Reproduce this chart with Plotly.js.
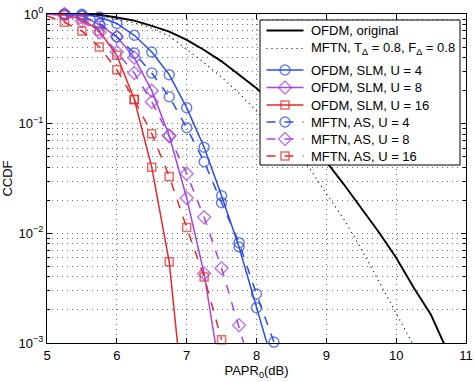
<!DOCTYPE html>
<html>
<head>
<meta charset="utf-8">
<script src="https://cdn.plot.ly/plotly-3.0.1.min.js"></script>
<style>html,body{margin:0;padding:0;background:#fff;}#chart{width:474px;height:382px;}</style>
</head>
<body>
<div id="chart"></div>
<script>
// ---- data ----
var xOrig = [5, 5.25, 5.5, 5.75, 6, 6.25, 6.5, 6.75, 7, 7.25, 7.5, 7.75, 8, 8.25, 8.5, 8.75, 9, 9.25, 9.5, 9.75, 10, 10.25, 10.5, 10.75];
var yOrig = [1, 1, 0.998, 0.985, 0.93, 0.87, 0.78, 0.69, 0.58, 0.47, 0.37, 0.28, 0.21, 0.15, 0.105, 0.07, 0.045, 0.028, 0.017, 0.0103, 0.006, 0.0032, 0.0018, 0.0008];

var xMftn = [5, 5.25, 5.5, 5.75, 6, 6.25, 6.5, 6.75, 7, 7.25, 7.5, 7.75, 8, 8.25, 8.5, 8.75, 9, 9.25, 9.5, 9.75, 10, 10.25, 10.5];
var yMftn = [1, 0.998, 0.99, 0.96, 0.9, 0.83, 0.74, 0.63, 0.48, 0.36, 0.265, 0.19, 0.13, 0.092, 0.062, 0.04, 0.023, 0.0135, 0.0072, 0.0037, 0.0019, 0.00095, 0.0004];

var xSlm4 = [5, 5.25, 5.5, 5.75, 6, 6.25, 6.5, 6.75, 7, 7.25, 7.5, 7.75, 8, 8.25];
var ySlm4 = [1, 1, 0.995, 0.94, 0.82, 0.64, 0.45, 0.28, 0.14, 0.061, 0.022, 0.0075, 0.0021, 0.0006];

var xSlm8 = [5, 5.25, 5.5, 5.75, 6, 6.25, 6.5, 6.75, 7, 7.25, 7.5];
var ySlm8 = [1, 1, 0.96, 0.80, 0.62, 0.40, 0.20, 0.078, 0.021, 0.0043, 0.00044];

var xSlm16 = [5, 5.25, 5.5, 5.75, 6, 6.25, 6.5, 6.75, 7];
var ySlm16 = [1, 0.98, 0.9, 0.70, 0.42, 0.167, 0.040, 0.0055, 0.00015];

var xAs4 = [5, 5.25, 5.5, 5.75, 6, 6.25, 6.5, 6.75, 7, 7.25, 7.5, 7.75, 8, 8.25];
var yAs4 = [1, 0.995, 0.96, 0.82, 0.62, 0.44, 0.29, 0.176, 0.092, 0.045, 0.019, 0.0082, 0.0028, 0.00102];

var xAs8 = [5, 5.25, 5.5, 5.75, 6, 6.25, 6.5, 6.75, 7, 7.25, 7.5, 7.75, 8];
var yAs8 = [1, 0.97, 0.86, 0.68, 0.45, 0.29, 0.158, 0.077, 0.035, 0.014, 0.0048, 0.00145, 0.0004];

var xAs16 = [5, 5.25, 5.5, 5.75, 6, 6.25, 6.5, 6.75, 7, 7.25, 7.5];
var yAs16 = [0.96, 0.84, 0.70, 0.50, 0.31, 0.165, 0.081, 0.033, 0.0113, 0.0040, 0.00107];

var seriesNames = ['OFDM, original', 'MFTN, T<sub>Δ</sub> = 0.8, F<sub>Δ</sub> = 0.8',
  'OFDM, SLM, U = 4', 'OFDM, SLM, U = 8', 'OFDM, SLM, U = 16',
  'MFTN, AS, U = 4', 'MFTN, AS, U = 8', 'MFTN, AS, U = 16'];

var xTickVals = [5, 6, 7, 8, 9, 10, 11];
var yTickVals = [0.001, 0.01, 0.1, 1];
var yTickText = ['10<sup>−3</sup>', '10<sup>−2</sup>', '10<sup>−1</sup>', '10<sup>0</sup>'];

// ---- styling ----
var BLUE = '#2b4de6', PURPLE = '#a445e6', RED = '#e82828';
var FONT = 'Liberation Sans, Arial, Helvetica, sans-serif';
var W = 474, H = 382, ML = 47, MR = 8, MT = 14, MB = 39;

var styles = [
  {color: '#000', width: 1.9, dash: 'solid', symbol: null, size: 0},
  {color: '#000', width: 1.2, dash: '1px,4px', symbol: null, size: 0},
  {color: BLUE, width: 1.5, dash: 'solid', symbol: 'circle-open', size: 10},
  {color: PURPLE, width: 1.5, dash: 'solid', symbol: 'diamond-open', size: 10},
  {color: RED, width: 1.5, dash: 'solid', symbol: 'square-open', size: 8},
  {color: BLUE, width: 1.5, dash: 'dash', symbol: 'circle-open', size: 10},
  {color: PURPLE, width: 1.5, dash: 'dash', symbol: 'diamond-open', size: 10},
  {color: RED, width: 1.5, dash: 'dash', symbol: 'square-open', size: 8}
];
var seriesX = [xOrig, xMftn, xSlm4, xSlm8, xSlm16, xAs4, xAs8, xAs16];
var seriesY = [yOrig, yMftn, ySlm4, ySlm8, ySlm16, yAs4, yAs8, yAs16];

function sizes(xs, ys, s) {
  return xs.map(function (x, i) { return (x <= 5 || ys[i] < 0.00099) ? 0 : s; });
}

var traces = [];
seriesX.forEach(function (xs, i) {
  var st = styles[i];
  var t = {x: xs, y: seriesY[i], name: seriesNames[i], type: 'scatter', showlegend: false,
    mode: st.symbol ? 'lines+markers' : 'lines', cliponaxis: false,
    line: {color: st.color, width: st.width, dash: st.dash}};
  if (st.symbol) t.marker = {symbol: st.symbol, size: sizes(xs, seriesY[i], st.size), color: st.color, line: {color: st.color, width: 1.5}};
  traces.push(t);
});

// ---- hand-drawn legend on an overlay pixel-space axis pair ----
var LBOX = {x0: 260, x1: 460, y0: 20, y1: 165};
var rowY = [30.5, 48.5, 70, 87.5, 105, 122, 139, 156];
var sampleX = [266.5, 285, 303.5];
var textX = 309;

traces.push({x: [LBOX.x0, LBOX.x1, LBOX.x1, LBOX.x0, LBOX.x0], y: [LBOX.y0, LBOX.y0, LBOX.y1, LBOX.y1, LBOX.y0],
  xaxis: 'x2', yaxis: 'y2', type: 'scatter', mode: 'lines', fill: 'toself', fillcolor: '#fff',
  line: {color: '#000', width: 1}, showlegend: false, hoverinfo: 'skip'});
var annotations = [];
styles.forEach(function (st, i) {
  var t = {x: sampleX, y: [rowY[i], rowY[i], rowY[i]], xaxis: 'x2', yaxis: 'y2', type: 'scatter', showlegend: false,
    mode: st.symbol ? 'lines+markers' : 'lines', line: {color: st.color, width: st.width, dash: st.dash}, hoverinfo: 'skip'};
  if (st.symbol) t.marker = {symbol: st.symbol, size: [0, st.size, 0], color: st.color, line: {color: st.color, width: 1.5}};
  traces.push(t);
  annotations.push({xref: 'x2', yref: 'y2', x: textX, y: rowY[i], xanchor: 'left', yanchor: 'middle',
    text: seriesNames[i], showarrow: false, font: {family: FONT, size: 13, color: '#000'}});
});

var minorY = [];
for (var d = -3; d < 0; d++) for (var k = 2; k <= 9; k++) minorY.push(k * Math.pow(10, d));

var GRID = '#6f6f6f';
var GDASH = '1px,4px';
var layout = {
  width: W, height: H,
  margin: {l: ML, r: MR, t: MT, b: MB},
  paper_bgcolor: '#fff', plot_bgcolor: '#fff',
  font: {family: FONT, size: 13, color: '#000'},
  showlegend: false,
  annotations: annotations,
  xaxis: {
    range: [5, 11], tickvals: xTickVals, ticktext: xTickVals.map(String),
    showline: true, linecolor: '#000', linewidth: 1, mirror: 'allticks',
    ticks: 'inside', ticklen: 5, tickcolor: '#000',
    showgrid: true, gridcolor: GRID, griddash: GDASH, gridwidth: 1,
    zeroline: false,
    tickfont: {family: FONT, size: 13},
    title: {text: 'PAPR<sub>0</sub>(dB)', font: {family: FONT, size: 13}, standoff: 4}
  },
  yaxis: {
    type: 'log', range: [-3, 0], tickvals: yTickVals, ticktext: yTickText,
    showline: true, linecolor: '#000', linewidth: 1, mirror: 'allticks',
    ticks: 'inside', ticklen: 5, tickcolor: '#000',
    showgrid: true, gridcolor: GRID, griddash: GDASH, gridwidth: 1,
    zeroline: false,
    tickfont: {family: FONT, size: 13},
    minor: {tickvals: minorY, ticks: 'inside', ticklen: 3, tickcolor: '#000', showgrid: true, gridcolor: GRID, griddash: GDASH, gridwidth: 1},
    title: {text: 'CCDF', font: {family: FONT, size: 13}, standoff: 8}
  },
  xaxis2: {overlaying: 'x', anchor: 'y2', range: [ML, W - MR], visible: false, fixedrange: true},
  yaxis2: {overlaying: 'y', anchor: 'x2', range: [H - MB, MT], visible: false, fixedrange: true}
};

Plotly.newPlot('chart', traces, layout, {displayModeBar: false, staticPlot: true});
</script>
</body>
</html>
